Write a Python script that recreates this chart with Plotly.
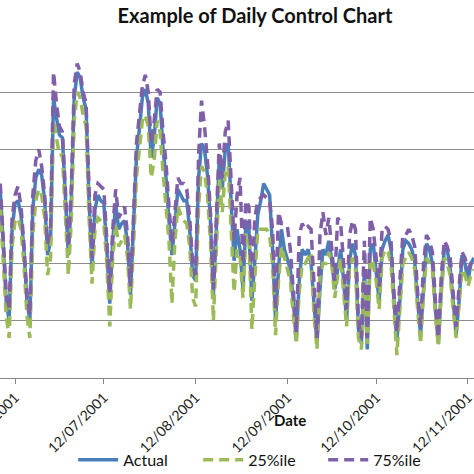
import pandas as pd
import plotly.graph_objects as go

start_date = "2001-06-07"

actual = [66, 48, 27, 20, 52, 61, 62, 57, 45, 27,
          20, 59, 70, 73, 71, 62, 43, 48, 98, 91,
          85, 84, 62, 43, 62, 98, 107, 105, 98, 94,
          62, 38, 59, 64, 62, 61, 45, 26, 48, 61,
          52, 54, 55, 47, 29, 52, 77, 87, 98, 101,
          96, 77, 84, 98, 96, 80, 70, 55, 43, 54,
          66, 64, 62, 62, 52, 36, 34, 70, 82, 80,
          71, 55, 29, 52, 77, 66, 80, 82, 62, 41,
          52, 45, 31, 55, 52, 27, 41, 57, 62, 68,
          66, 64, 45, 20, 38, 52, 45, 41, 38, 27,
          13, 34, 45, 43, 45, 40, 24, 12, 31, 45,
          43, 48, 41, 31, 38, 45, 34, 20, 41, 47,
          43, 17, 12, 38, 10, 45, 47, 38, 27, 45,
          48, 50, 45, 27, 13, 27, 45, 48, 47, 45,
          41, 27, 15, 31, 47, 45, 40, 24, 12, 31,
          45, 45, 38, 27, 15, 27, 43, 40, 34, 40, 42]

p25 = [60, 42, 22, 14, 46, 55, 56, 52, 40, 22,
       14, 50, 62, 66, 64, 56, 36, 42, 90, 84,
       78, 78, 56, 36, 55, 90, 100, 98, 92, 88,
       56, 33, 52, 56, 55, 54, 40, 18, 42, 54,
       46, 48, 50, 42, 24, 46, 70, 80, 90, 92,
       88, 70, 76, 90, 86, 72, 60, 48, 26, 48,
       60, 57, 55, 54, 46, 28, 25, 60, 74, 72,
       64, 48, 20, 46, 70, 58, 72, 74, 52, 30,
       45, 43, 28, 50, 50, 17, 35, 52, 52, 52,
       52, 50, 40, 15, 34, 46, 42, 38, 34, 22,
       12, 30, 40, 40, 42, 44, 22, 10, 36, 40,
       40, 44, 40, 28, 36, 42, 30, 18, 40, 42,
       38, 14, 10, 34, 12, 42, 40, 34, 24, 42,
       45, 44, 40, 24, 8, 24, 40, 42, 44, 42,
       38, 24, 12, 30, 42, 40, 38, 22, 11, 30,
       42, 40, 36, 24, 14, 26, 38, 36, 32, 36, 38]

p75 = [68, 50, 30, 24, 56, 64, 67, 60, 47, 29,
       22, 64, 76, 80, 74, 64, 47, 53, 107, 96,
       88, 86, 65, 46, 66, 103, 110, 107, 100, 96,
       66, 42, 64, 68, 67, 66, 48, 30, 52, 66,
       56, 58, 60, 50, 32, 56, 82, 92, 102, 106,
       100, 82, 90, 101, 100, 86, 75, 60, 47, 58,
       70, 68, 68, 66, 56, 40, 36, 78, 97, 88,
       76, 58, 31, 56, 82, 70, 86, 90, 70, 48,
       64, 70, 40, 62, 60, 34, 56, 62, 63, 64,
       63, 62, 52, 24, 58, 54, 54, 53, 45, 32,
       16, 50, 54, 52, 53, 52, 30, 14, 50, 58,
       50, 56, 45, 34, 56, 54, 40, 24, 50, 55,
       52, 20, 14, 48, 14, 56, 52, 42, 32, 52,
       53, 52, 48, 30, 16, 34, 50, 50, 52, 50,
       46, 30, 18, 40, 50, 48, 44, 27, 14, 36,
       48, 46, 42, 30, 18, 32, 44, 42, 38, 40, 42]

tick_dates = ["2001-06-12", "2001-07-12", "2001-08-12", "2001-09-12",
              "2001-10-12", "2001-11-12"]
tick_labels = ["12/06/2001", "12/07/2001", "12/08/2001", "12/09/2001",
               "12/10/2001", "12/11/2001"]

n = max(len(actual), len(p25), len(p75))
dates = pd.date_range(start_date, periods=n, freq="D")

fig = go.Figure()
fig.add_trace(go.Scatter(x=dates[:len(actual)], y=actual, mode="lines", name="Actual",
                         line=dict(color="#4A7EBB", width=3.5)))
fig.add_trace(go.Scatter(x=dates[:len(p25)], y=p25, mode="lines", name="25%ile",
                         line=dict(color="#9BBB59", width=3.5, dash="10px,6px")))
fig.add_trace(go.Scatter(x=dates[:len(p75)], y=p75, mode="lines", name="75%ile",
                         line=dict(color="#7F5FA8", width=3.5, dash="10px,6px")))

fig.add_annotation(text="<b>Date</b>", xref="paper", yref="paper",
                   x=0.612, y=-0.122, xanchor="center", yanchor="middle",
                   showarrow=False, font=dict(size=15, color="#111111"))

fig.update_layout(
    width=474, height=474,
    margin=dict(l=0, r=0, t=34, b=96, autoexpand=False),
    paper_bgcolor="white", plot_bgcolor="white",
    font=dict(family="Lato, Open Sans, sans-serif", color="#222222"),
    title=dict(text="<b>Example of Daily Control Chart</b>", x=0.538, xanchor="center",
               y=0.982, yanchor="top", font=dict(size=20, color="#111111")),
    showlegend=True,
    legend=dict(orientation="h", x=0.55, xanchor="center", y=-0.238, yanchor="middle",
                font=dict(size=16, color="#111111"), bgcolor="rgba(0,0,0,0)",
                itemwidth=40, entrywidth=70, entrywidthmode="pixels"),
    xaxis=dict(
        range=["2001-06-06 22:00", "2001-11-14 01:00"],
        tickvals=tick_dates, ticktext=tick_labels, tickangle=-45,
        ticks="outside", ticklen=5, tickcolor="#868686",
        showline=True, linecolor="#868686", linewidth=1,
        showgrid=False, zeroline=False, automargin=False,
        ticklabeloverflow="allow",
        tickfont=dict(size=14, color="#222222"),
    ),
    yaxis=dict(
        range=[0, 120.3], tickvals=[20, 40, 60, 80, 100, 120], showticklabels=False,
        showgrid=True, gridcolor="#8C8C8C", gridwidth=1, automargin=False,
        zeroline=False, showline=False, ticks="",
    ),
)

fig.write_html("out.html")
